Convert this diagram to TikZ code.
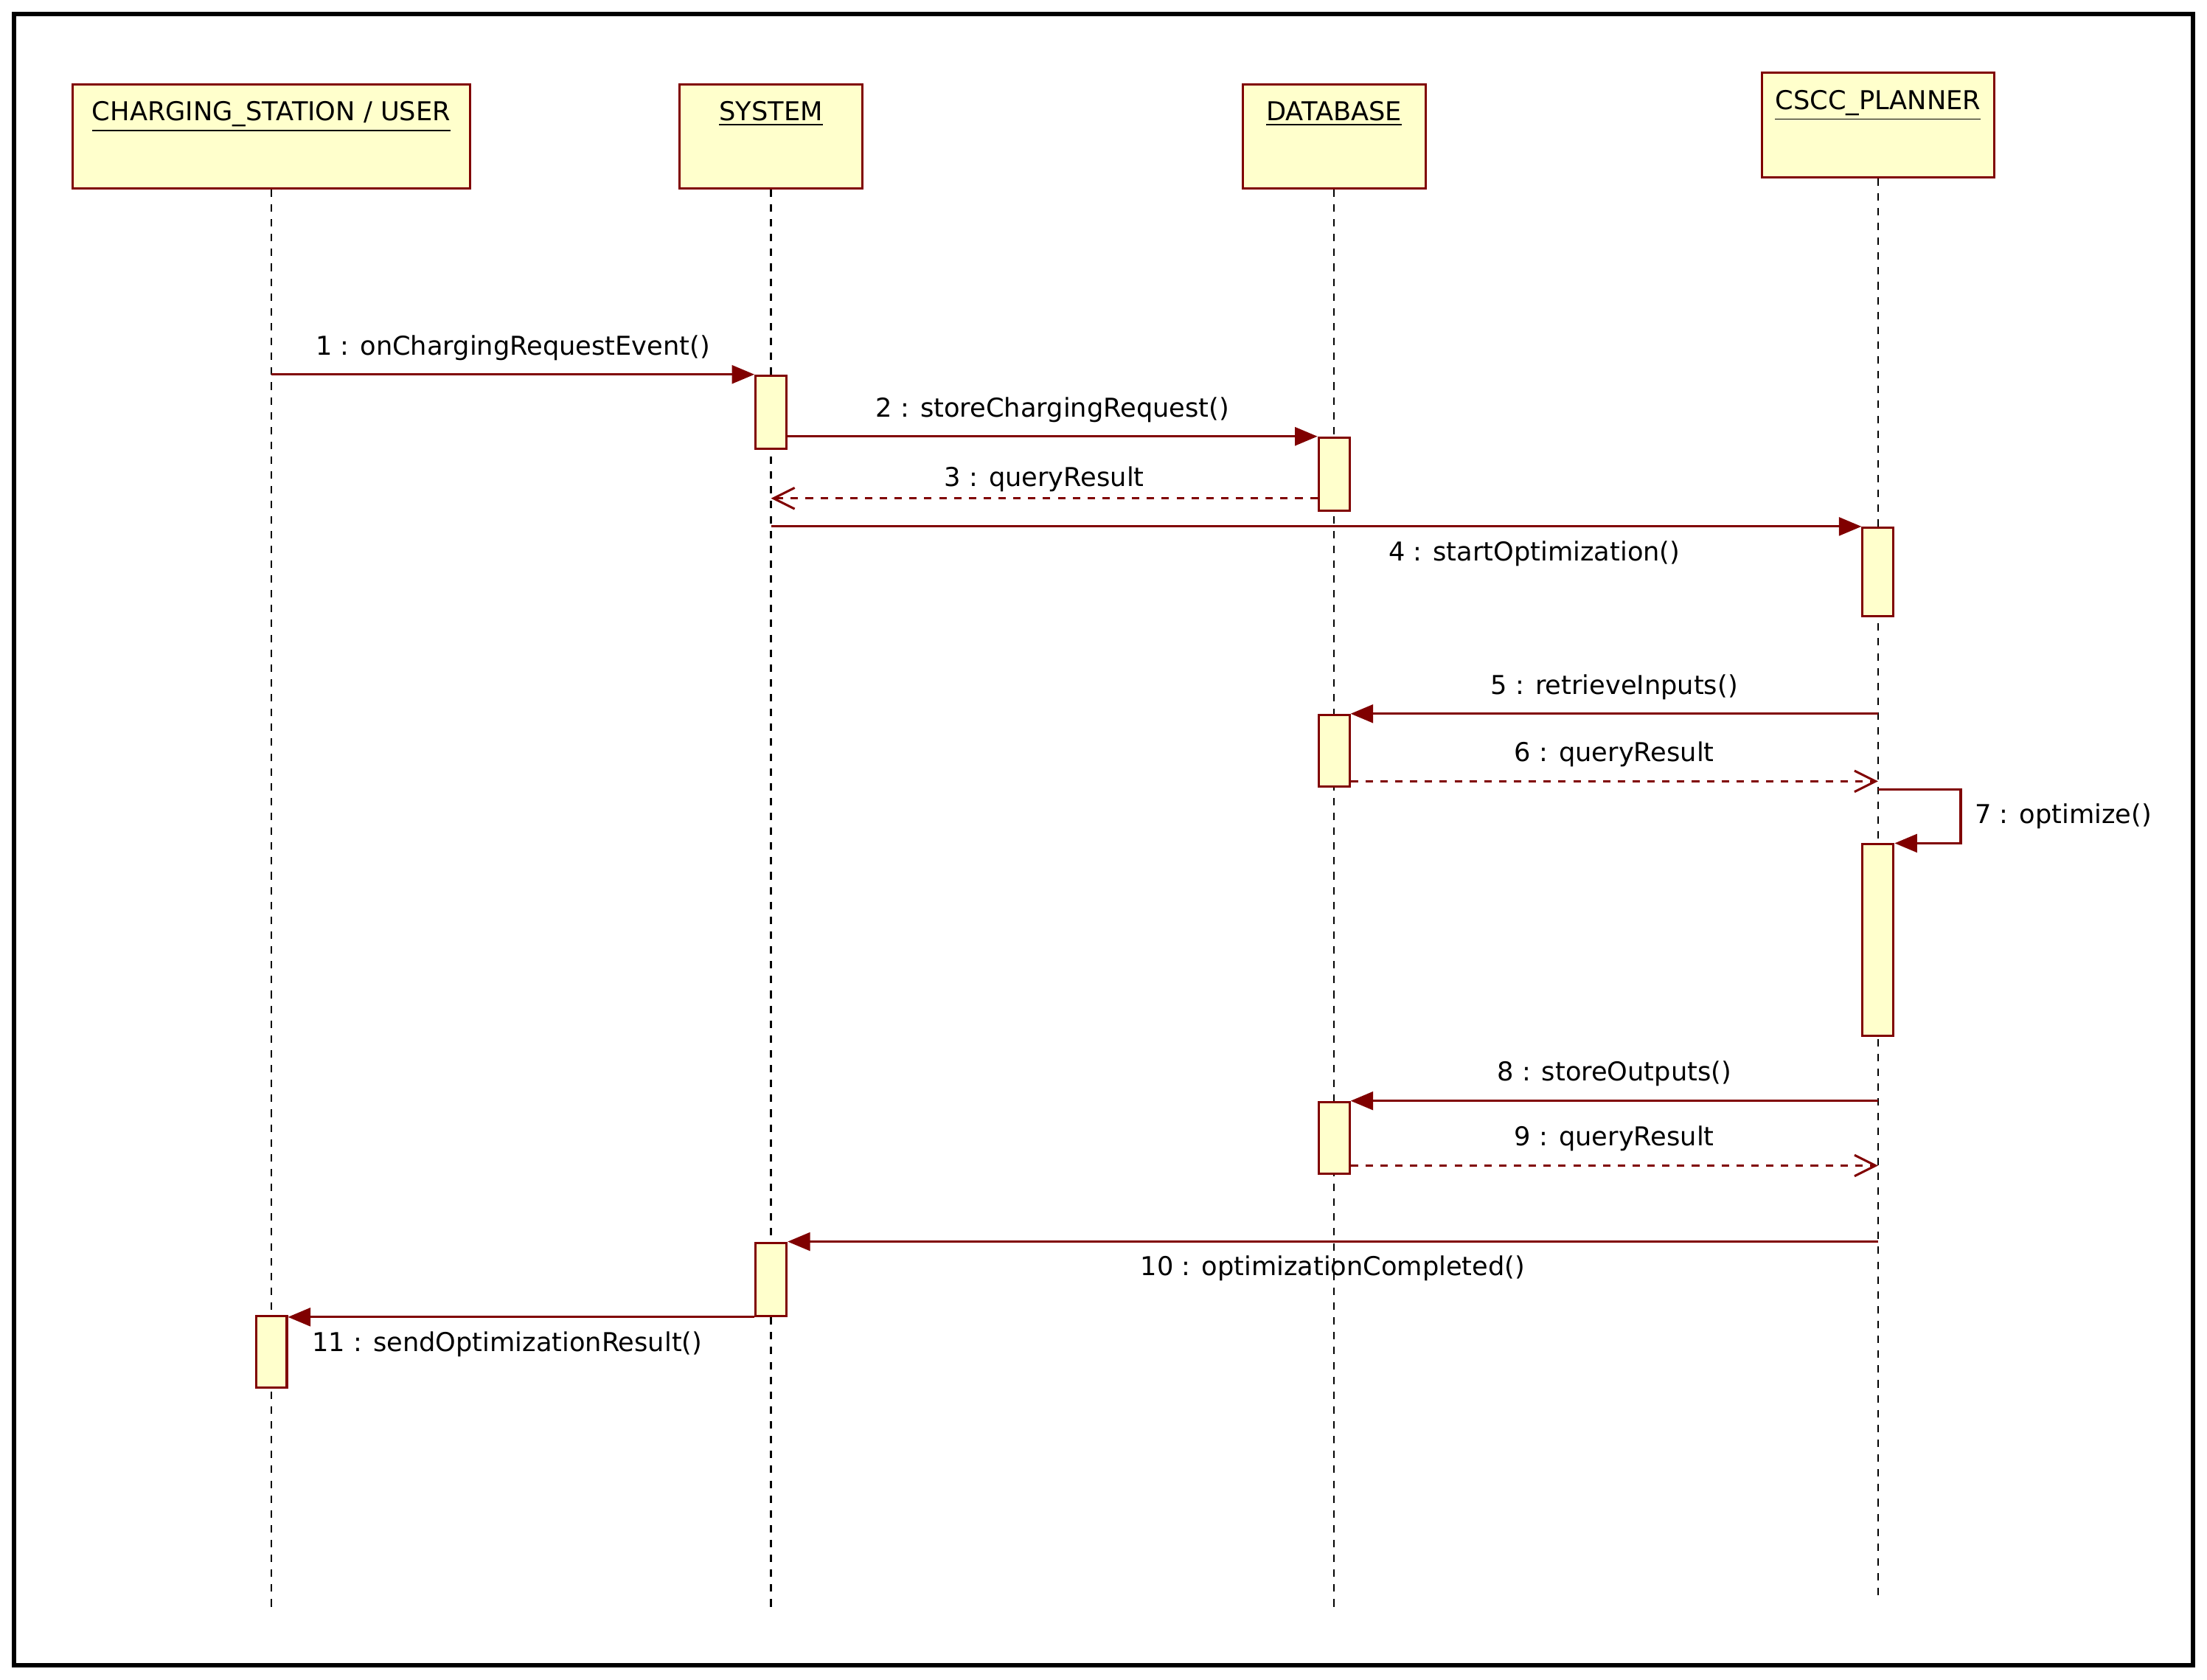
\documentclass[tikz,border=0pt]{standalone}
\usepackage{fontspec}
\setmainfont{DejaVu Sans}
\usetikzlibrary{arrows.meta}
\definecolor{umlred}{RGB}{128,0,0}
\definecolor{umlfill}{RGB}{255,255,204}
\begin{document}
\begin{tikzpicture}[x=0.02cm,y=-0.02cm,font=\fontsize{10.5}{12}\selectfont]
	% styles
	\tikzset{
		head/.style={draw=umlred,fill=umlfill,line width=0.9pt,anchor=north west,inner sep=0pt},
		act/.style={draw=umlred,fill=umlfill,line width=0.9pt,minimum width=0.44cm,inner sep=0pt,anchor=north},
		life/.style={dashed,line width=0.7pt},
		msg/.style={umlred,line width=0.9pt,-{Triangle[length=0.32cm,width=0.26cm]}},
		ret/.style={umlred,line width=0.9pt,dashed,-{Straight Barb[length=0.3cm,width=0.3cm]}},
		lbl/.style={text=black}
	}
	\useasboundingbox (0,0) rectangle (1568,1193);
	\draw[line width=1.8pt] (10,10) rectangle (1558,1183);
	
	% heads and lifelines
	\foreach \n/\x/\y/\w/\t/\e in {u/51/59/282/{CHARGING\_STATION / USER}/1143,s/482/59/130/SYSTEM/1143,d/882/59/130/DATABASE/1143,p/1251/51/165/CSCC\_PLANNER/1135} {
		\node[head,minimum width=\w*0.02cm,minimum height=1.48cm] (\n) at (\x,\y) {};
		\node[anchor=north] (\n t) at ([yshift=-0.14cm]\n.north) {\underline{\t}};
		\draw[life] (\n.south) -- (\n.south |- 0,\e) coordinate (\n end);
	}
	
	% activations
	\foreach \n/\l/\a/\b in {a1/s/266/318,a2/d/310/362,a3/p/374/437,a4/d/507/558,a5/p/599/735,a6/d/782/833,a7/s/882/934,a8/u/934/985} {
		\node[act,minimum height=(\b-\a)*0.02cm] (\n) at (\l.south |- 0,\a) {};
	}
	
	% messages
	\coordinate (m1) at (u.south |- a1.north);
	\draw[msg] (m1) -- (a1.north west) node[lbl,midway,above=2pt] {1 : onChargingRequestEvent()};
	\draw[msg] (a1.east |- a2.north) -- (a2.north west) node[lbl,midway,above=2pt] {2 : storeChargingRequest()};
	\coordinate (m3) at (s.south |- 0,354);
	\draw[ret] (a2.west |- m3) -- (m3) node[lbl,midway,above=-1pt] {3 : queryResult};
	\coordinate (m4) at (s.south |- a3.north);
	\draw[msg] (m4) -- (a3.north west) node[lbl,pos=0.7,below=2pt] {4 : startOptimization()};
	\coordinate (m5) at (p.south |- a4.north);
	\draw[msg] (m5) -- (a4.north east) node[lbl,midway,above=2pt] {5 : retrieveInputs()};
	\coordinate (m6) at (p.south |- 0,555);
	\draw[ret] (a4.east |- m6) -- (m6) node[lbl,midway,above=2pt] {6 : queryResult};
	\coordinate (m7) at (p.south |- 0,561);
	\coordinate (m7r) at (1393,561);
	\draw[msg] (m7) -- (m7r) -- (m7r |- a5.north) node[lbl,midway,right=2pt] {7 : optimize()} -- (a5.north east);
	\coordinate (m8) at (p.south |- a6.north);
	\draw[msg] (m8) -- (a6.north east) node[lbl,midway,above=2pt] {8 : storeOutputs()};
	\coordinate (m9) at (p.south |- 0,828);
	\draw[ret] (a6.east |- m9) -- (m9) node[lbl,midway,above=2pt] {9 : queryResult};
	\coordinate (m10) at (p.south |- a7.north);
	\draw[msg] (m10) -- (a7.north east) node[lbl,pos=0.5,below=2pt] {10 : optimizationCompleted()};
	\draw[msg] (a7.south west) -- (a7.south west -| a8.east) node[lbl,pos=0.53,below=2pt] {11 : sendOptimizationResult()};
\end{tikzpicture}
\end{document}
